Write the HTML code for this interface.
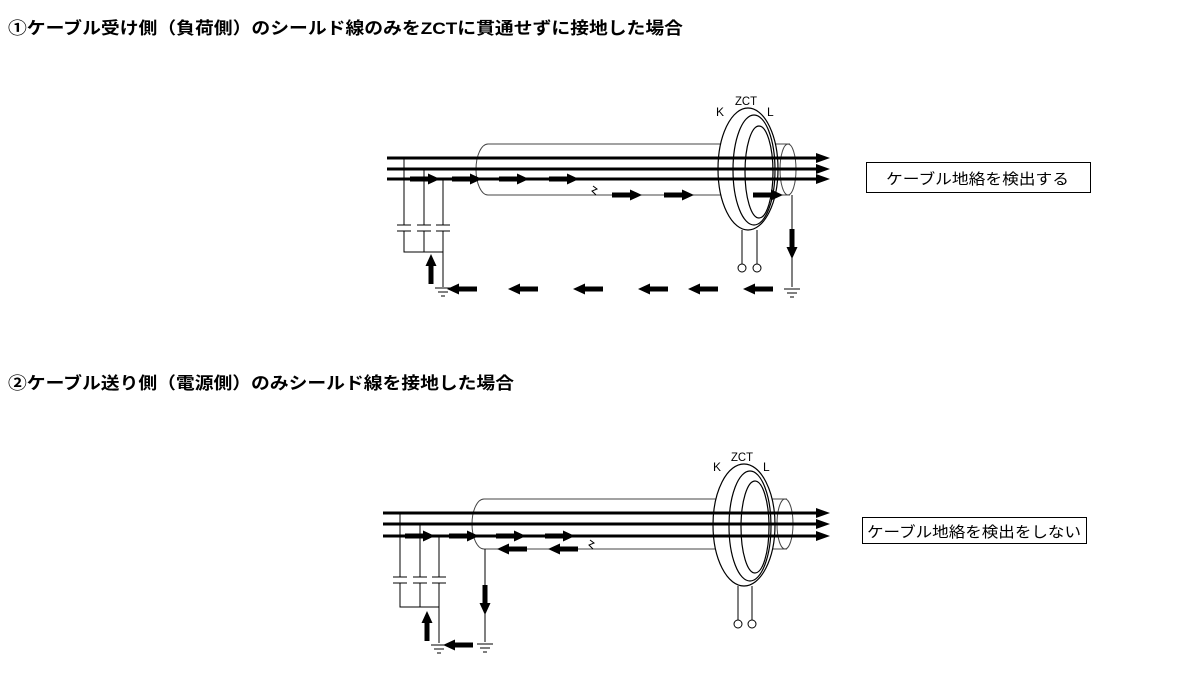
<!DOCTYPE html>
<html><head><meta charset="utf-8"><style>
body{margin:0;background:#fff;width:1196px;height:696px;overflow:hidden}
svg{display:block}
.t{font-family:"Liberation Sans","Noto Sans CJK JP",sans-serif;font-weight:bold;font-size:17px}
.b{font-family:"Liberation Sans","Noto Sans CJK JP",sans-serif;font-size:15px}
.s{font-family:"Liberation Sans",sans-serif;font-size:12px}
</style></head><body>
<svg width="1196" height="696" viewBox="0 0 1196 696" xmlns="http://www.w3.org/2000/svg">
<defs>
<g id="ar"><rect x="0" y="-2.5" width="20" height="5" fill="#000"/><polygon points="18,-5.5 30,0 18,5.5" fill="#000"/></g>
<g id="gnd" stroke="#000" stroke-width="1"><line x1="-8" y1="0" x2="8" y2="0"/><line x1="-5" y1="4" x2="5" y2="4"/><line x1="-2" y1="8" x2="2" y2="8"/></g>
</defs>
<text class="t" x="8" y="34" textLength="675" lengthAdjust="spacingAndGlyphs">①ケーブル受け側（負荷側）のシールド線のみをZCTに貫通せずに接地した場合</text>
<text class="t" x="8" y="389" textLength="506" lengthAdjust="spacingAndGlyphs">②ケーブル送り側（電源側）のみシールド線を接地した場合</text>

<!-- Diagram 1 -->
<g fill="none" stroke="#444" stroke-width="1">
<path d="M488,144 H790 M488,195 H790 M488,144 A12,25.5 0 0 0 488,195"/>
<ellipse cx="788" cy="169.5" rx="8" ry="25.5"/>
</g>
<g fill="#fff" stroke="#000" stroke-width="1.2">
<ellipse cx="748" cy="169" rx="30" ry="61"/>
<ellipse cx="754" cy="170" rx="21" ry="55"/>
<ellipse cx="759" cy="172" rx="14" ry="46"/>
</g>
<g stroke="#000" stroke-width="3"><line x1="387" y1="158" x2="818" y2="158"/><line x1="387" y1="169" x2="818" y2="169"/><line x1="387" y1="179" x2="818" y2="179"/></g>
<g fill="#000"><polygon points="816,153 830,158 816,163"/><polygon points="816,164 830,169 816,174"/><polygon points="816,174 830,179 816,184"/></g>
<g stroke="#000" stroke-width="1" fill="none">
<path d="M404,158 V225 M404,231 V252 H443 M424,169 V225 M424,231 V252 M443,179 V225 M443,231 V287"/>
<path d="M397,225 H411 M397,231 H411 M417,225 H431 M417,231 H431 M436,225 H450 M436,231 H450"/>
<path d="M792,195 V287 M742,230 V264 M757,230 V264"/>
<circle cx="742" cy="268" r="4"/><circle cx="757" cy="268" r="4"/>
<path d="M593,186 L597,189 L592,191 L596,195"/>
</g>
<use href="#gnd" x="443" y="288"/><use href="#gnd" x="792" y="289"/>
<use href="#ar" transform="translate(410,179)"/><use href="#ar" transform="translate(452,179)"/><use href="#ar" transform="translate(499,179)"/><use href="#ar" transform="translate(549,179)"/>
<use href="#ar" transform="translate(612,195)"/><use href="#ar" transform="translate(664,195)"/><use href="#ar" transform="translate(753,195)"/>
<use href="#ar" transform="translate(792,229) rotate(90)"/>
<use href="#ar" transform="translate(431,284) rotate(-90)"/>
<use href="#ar" transform="translate(477,289) rotate(180)"/><use href="#ar" transform="translate(538,289) rotate(180)"/><use href="#ar" transform="translate(603,289) rotate(180)"/><use href="#ar" transform="translate(668,289) rotate(180)"/><use href="#ar" transform="translate(718,289) rotate(180)"/><use href="#ar" transform="translate(773,289) rotate(180)"/>
<text class="s" x="716" y="116">K</text><text class="s" x="735" y="105" textLength="22" lengthAdjust="spacingAndGlyphs">ZCT</text><text class="s" x="767" y="116">L</text>
<rect x="866.5" y="162.5" width="224" height="30" fill="none" stroke="#000"/>
<text class="b" x="886" y="184" textLength="183" lengthAdjust="spacingAndGlyphs">ケーブル地絡を検出する</text>

<!-- Diagram 2 -->
<g fill="none" stroke="#444" stroke-width="1">
<path d="M484,499 H787 M484,549 H787 M484,499 A12,25 0 0 0 484,549"/>
<ellipse cx="785" cy="524" rx="8" ry="25"/>
</g>
<g fill="#fff" stroke="#000" stroke-width="1.2">
<ellipse cx="744" cy="525" rx="31" ry="61"/>
<ellipse cx="750" cy="526" rx="21" ry="55"/>
<ellipse cx="755" cy="527" rx="14" ry="46"/>
</g>
<g stroke="#000" stroke-width="3"><line x1="383" y1="513" x2="818" y2="513"/><line x1="383" y1="524" x2="818" y2="524"/><line x1="383" y1="536" x2="818" y2="536"/></g>
<g fill="#000"><polygon points="816,508 830,513 816,518"/><polygon points="816,519 830,524 816,529"/><polygon points="816,531 830,536 816,541"/></g>
<g stroke="#000" stroke-width="1" fill="none">
<path d="M400,513 V577 M400,583 V607 H439 M420,524 V577 M420,583 V607 M439,536 V577 M439,583 V643"/>
<path d="M393,577 H407 M393,583 H407 M413,577 H427 M413,583 H427 M432,577 H446 M432,583 H446"/>
<path d="M485,549 V642 M738,586 V620 M752,586 V620"/>
<circle cx="738" cy="624" r="4"/><circle cx="752" cy="624" r="4"/>
<path d="M590,540 L594,543 L589,545 L593,549"/>
</g>
<use href="#gnd" x="439" y="645"/><use href="#gnd" x="485" y="644"/>
<use href="#ar" transform="translate(405,536)"/><use href="#ar" transform="translate(449,536)"/><use href="#ar" transform="translate(496,536)"/><use href="#ar" transform="translate(545,536)"/>
<use href="#ar" transform="translate(527,549) rotate(180)"/><use href="#ar" transform="translate(578,549) rotate(180)"/>
<use href="#ar" transform="translate(485,585) rotate(90)"/>
<use href="#ar" transform="translate(427,641) rotate(-90)"/>
<use href="#ar" transform="translate(473,645) rotate(180)"/>
<text class="s" x="713" y="471">K</text><text class="s" x="731" y="461" textLength="22" lengthAdjust="spacingAndGlyphs">ZCT</text><text class="s" x="763" y="471">L</text>
<rect x="862.5" y="517.5" width="224" height="26" fill="none" stroke="#000"/>
<text class="b" x="867" y="537" textLength="214" lengthAdjust="spacingAndGlyphs">ケーブル地絡を検出をしない</text>
</svg>
</body></html>
